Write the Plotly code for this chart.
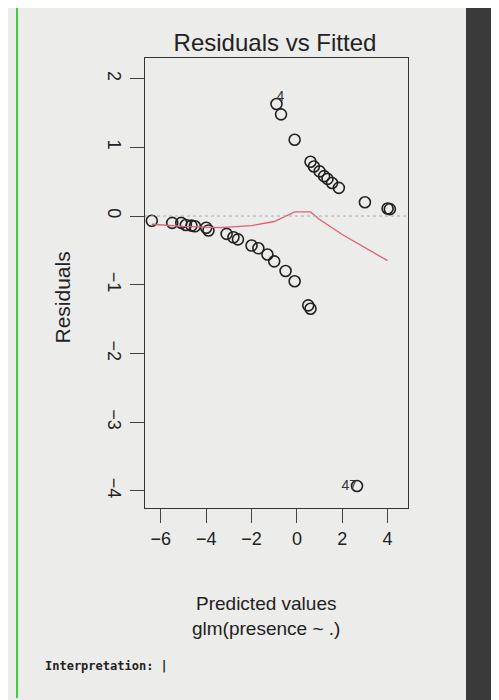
import plotly.graph_objects as go

fitted = [-6.4,-5.5,-5.1,-4.9,-4.65,-4.5,-4.0,-3.9,-3.1,-2.8,-2.6,-2.0,-1.7,-1.3,-1.0,-0.5,-0.1,0.5,0.6,
          -0.9,-0.7,-0.1,0.6,0.75,1.0,1.2,1.35,1.55,1.85,3.0,4.0,4.1,2.65]
resid = [-0.07,-0.1,-0.1,-0.13,-0.14,-0.15,-0.17,-0.21,-0.26,-0.31,-0.34,-0.43,-0.47,-0.56,-0.66,-0.8,-0.95,-1.3,-1.35,
         1.63,1.48,1.11,0.79,0.72,0.65,0.58,0.54,0.48,0.41,0.2,0.11,0.1,-3.93]
smooth_x = [-6.4,-5.0,-3.4,-2.0,-1.0,-0.1,0.6,1.0,2.0,3.0,4.0]
smooth_y = [-0.12,-0.15,-0.17,-0.14,-0.08,0.06,0.06,-0.05,-0.27,-0.46,-0.65]
labels_x = [-0.9, 2.65]
labels_y = [1.63, -3.93]
labels = ["4", "47"]

L, R, T, B = 137, 99, 50, 200
pw, ph = 499 - L - R, 700 - T - B
px = lambda x: (x - L) / pw
py = lambda y: 1 - (y - T) / ph

fig = go.Figure()
fig.add_hline(y=0, line=dict(color="#aaaaaa", dash="dot", width=1))
fig.add_trace(go.Scatter(x=fitted, y=resid, mode="markers",
    marker=dict(symbol="circle-open", size=11, color="#222", line=dict(width=1.6))))
fig.add_trace(go.Scatter(x=smooth_x, y=smooth_y, mode="lines", line=dict(color="#e06070", width=1.3)))
fig.add_trace(go.Scatter(x=labels_x, y=labels_y, mode="text", text=labels,
    textposition=["top right", "middle left"], textfont=dict(size=14, color="#333")))

fig.update_layout(
    width=499, height=700, showlegend=False,
    paper_bgcolor="#ececea", plot_bgcolor="#ececea",
    margin=dict(l=L, r=R, t=T, b=B),
    font=dict(family="Liberation Sans, Arial", color="#222"),
    title=dict(text="Residuals vs Fitted", x=0.535, xanchor="center", y=0.963, font=dict(size=24)),
    xaxis=dict(range=[-6.7, 4.9], tickvals=[-6,-4,-2,0,2,4], ticks="outside", ticklen=14,
               showgrid=False, zeroline=False, showline=True, mirror=True, linecolor="#333",
               tickfont=dict(size=18)),
    yaxis=dict(range=[-4.25, 2.3], tickvals=[-4,-3,-2,-1,0,1,2], ticks="outside", ticklen=14,
               tickangle=90, showgrid=False, zeroline=False, showline=True, mirror=True,
               linecolor="#333", tickfont=dict(size=18)),
)
fig.add_annotation(text="Residuals", xref="paper", yref="paper", x=px(40), y=py(290), textangle=-90,
                   showarrow=False, font=dict(size=21))
fig.add_annotation(text="Predicted values", xref="paper", yref="paper", x=px(258), y=py(608),
                   showarrow=False, font=dict(size=19))
fig.add_annotation(text="glm(presence ~ .)", xref="paper", yref="paper", x=px(258), y=py(633),
                   showarrow=False, font=dict(size=19))
fig.add_annotation(text="<b>Interpretation: |</b>", xref="paper", yref="paper",
                   x=px(35), y=py(667), xanchor="left", showarrow=False,
                   font=dict(family="DejaVu Sans Mono", size=12, color="#222"))
fig.add_shape(type="line", xref="paper", yref="paper", x0=px(9), x1=px(9), y0=py(690), y1=py(0),
              line=dict(color="#3ad13a", width=2))
fig.add_shape(type="rect", xref="paper", yref="paper", x0=px(458), x1=px(499), y0=py(700), y1=py(0),
              line=dict(width=0), fillcolor="#3a3a3a", layer="below")
fig.write_html("out.html")
